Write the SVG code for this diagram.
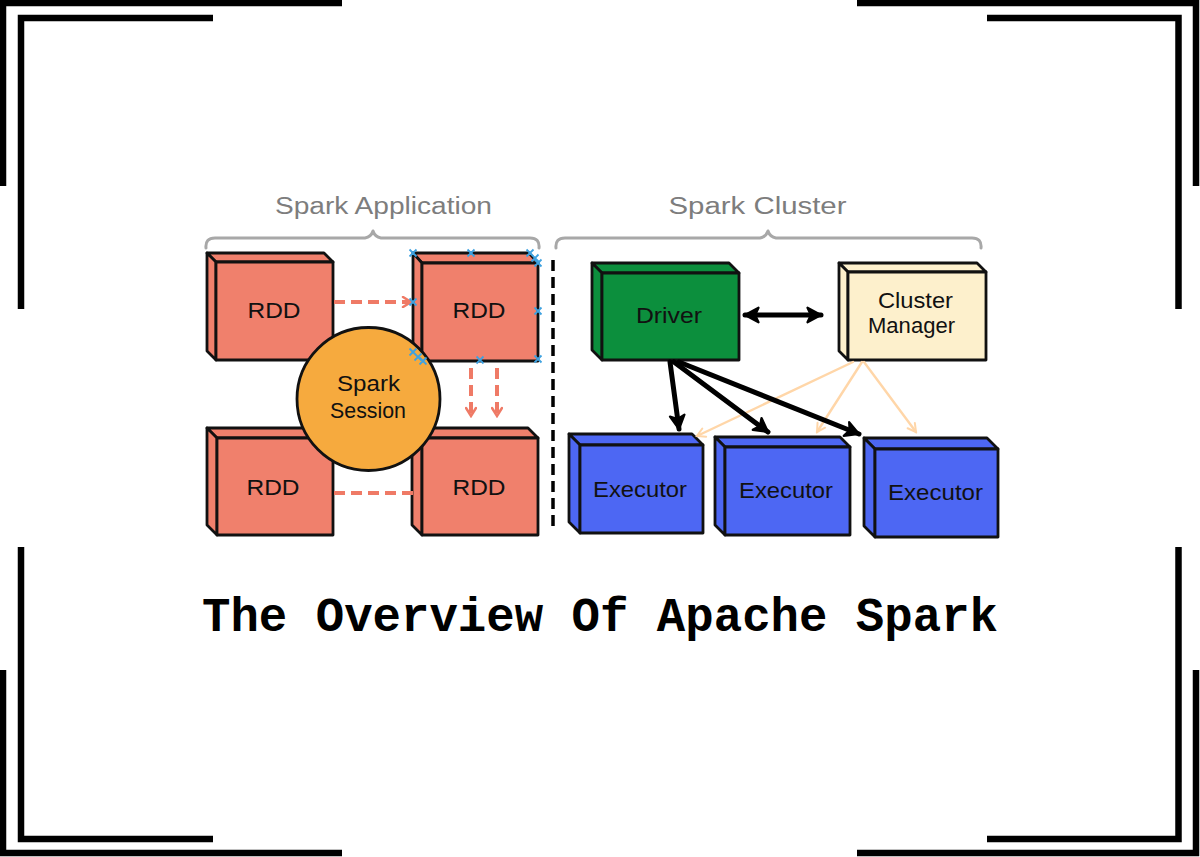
<svg xmlns="http://www.w3.org/2000/svg" width="1200" height="857" viewBox="0 0 1200 857">
<defs>
<style>
.frame{fill:none;stroke:#000;stroke-width:6.5;stroke-linecap:butt}
.face{stroke:#111;stroke-width:2.8;stroke-linejoin:round}
.rdd{fill:#f0806c}
.drv{fill:#0c8f3d}
.cm{fill:#fdf0cc}
.ex{fill:#4d67f3}
.lbl{font-family:"Liberation Sans","Open Sans",sans-serif;font-size:21.5px;fill:#111;text-anchor:middle}
.grp{font-family:"Liberation Sans","Open Sans",sans-serif;font-size:23px;fill:#7d7d7d;text-anchor:middle}
.brace{fill:none;stroke:#a8a8a8;stroke-width:3;stroke-linecap:round;stroke-linejoin:round}
.dash{fill:none;stroke:#ef7a66;stroke-width:4;stroke-dasharray:11 6}
.blk{fill:none;stroke:#000;stroke-width:5;stroke-linecap:round}
.org{fill:none;stroke:#ffd6a8;stroke-width:2.4;stroke-linecap:round}
.sep{fill:none;stroke:#000;stroke-width:3.5;stroke-dasharray:11 6}
.x{stroke:#3fa2e0;stroke-width:1.8}
.title{font-family:"Liberation Mono","Courier New",monospace;font-weight:bold;font-size:47.5px;fill:#000;text-anchor:middle}
</style>
<marker id="hs" viewBox="0 0 12 12" refX="10" refY="6" markerWidth="12" markerHeight="12" markerUnits="userSpaceOnUse" orient="auto">
<path d="M2,1 L10,6 L2,11" fill="none" stroke="#ef7a66" stroke-width="2.5" stroke-linecap="round"/>
</marker>
<marker id="hb" viewBox="0 0 16 16" refX="14" refY="8" markerWidth="18" markerHeight="18" markerUnits="userSpaceOnUse" orient="auto">
<path d="M2,1.5 L14,8 L2,14.5 L5,8 Z" fill="#000" stroke="#000" stroke-width="2" stroke-linejoin="round"/>
</marker>
<marker id="hbs" viewBox="0 0 16 16" refX="14" refY="8" markerWidth="18" markerHeight="18" markerUnits="userSpaceOnUse" orient="auto-start-reverse">
<path d="M2,1.5 L14,8 L2,14.5 L5,8 Z" fill="#000" stroke="#000" stroke-width="2" stroke-linejoin="round"/>
</marker>
<marker id="ho" viewBox="0 0 12 12" refX="10" refY="6" markerWidth="12" markerHeight="12" markerUnits="userSpaceOnUse" orient="auto">
<path d="M2,1.5 L10,6 L2,10.5" fill="none" stroke="#ffd6a8" stroke-width="2" stroke-linecap="round"/>
</marker>
</defs>
<rect width="1200" height="857" fill="#fff"/>

<g id="frame">
<path class="frame" d="M3,186 V3 H342"/>
<path class="frame" d="M21,309 V18 H213"/>
<path class="frame" d="M857,3 H1196 V186"/>
<path class="frame" d="M987,18 H1178.5 V309"/>
<path class="frame" d="M21,547 V839 H213"/>
<path class="frame" d="M3,670 V853 H342"/>
<path class="frame" d="M987,839 H1178.5 V547"/>
<path class="frame" d="M857,853 H1196 V670"/>
</g>

<g id="group-labels">
<text class="grp" x="383.5" y="214" textLength="217" lengthAdjust="spacingAndGlyphs">Spark Application</text>
<path class="brace" d="M206,248 Q205,238 215,238 L365,238 Q371,237 373,231 Q375,237 381,238 L530,238 Q540,238 539,248"/>
<text class="grp" x="757.5" y="214" textLength="178" lengthAdjust="spacingAndGlyphs">Spark Cluster</text>
<path class="brace" d="M556,248 Q555,238 565,238 L760,238 Q766,237 768,231 Q770,237 776,238 L972,238 Q982,238 981,248"/>
</g>

<g id="separator">
<path class="sep" d="M553,260 V532"/>
</g>

<g id="rdd-tl">
<polygon class="face rdd" points="207,253 324,253 333,262 216,262"/>
<polygon class="face rdd" points="207,253 216,262 216,360 207,351"/>
<rect class="face rdd" x="216" y="262" width="117" height="98"/>
<text class="lbl" x="274" y="318" textLength="53" lengthAdjust="spacingAndGlyphs">RDD</text>
</g>
<g id="rdd-tr">
<polygon class="face rdd" points="413,253 529,253 538,263 422,263"/>
<polygon class="face rdd" points="413,253 422,263 422,361 413,352"/>
<rect class="face rdd" x="422" y="263" width="116" height="98"/>
<text class="lbl" x="479" y="318" textLength="53" lengthAdjust="spacingAndGlyphs">RDD</text>
</g>
<g id="rdd-bl">
<polygon class="face rdd" points="207,428 323,428 333,438 217,438"/>
<polygon class="face rdd" points="207,428 217,438 217,535 207,525"/>
<rect class="face rdd" x="217" y="438" width="116" height="97"/>
<text class="lbl" x="273" y="495" textLength="53" lengthAdjust="spacingAndGlyphs">RDD</text>
</g>
<g id="rdd-br">
<polygon class="face rdd" points="412,428 528,428 538,438 422,438"/>
<polygon class="face rdd" points="412,428 422,438 422,535 412,525"/>
<rect class="face rdd" x="422" y="438" width="116" height="97"/>
<text class="lbl" x="479" y="495" textLength="53" lengthAdjust="spacingAndGlyphs">RDD</text>
</g>

<g id="spark-session">
<circle cx="368.5" cy="399" r="71.5" fill="#f6aa3e" stroke="#111" stroke-width="2.8"/>
<text class="lbl" x="368.5" y="391" textLength="63" lengthAdjust="spacingAndGlyphs">Spark</text>
<text class="lbl" x="368" y="418" textLength="76" lengthAdjust="spacingAndGlyphs">Session</text>
</g>

<g id="driver">
<polygon class="face drv" points="592,263 729,263 739,273 602,273"/>
<polygon class="face drv" points="592,263 602,273 602,360 592,350"/>
<rect class="face drv" x="602" y="273" width="137" height="87"/>
<text class="lbl" x="669" y="323" textLength="66" lengthAdjust="spacingAndGlyphs">Driver</text>
</g>
<g id="cluster-manager">
<polygon class="face cm" points="839,263 977,263 986,272 848,272"/>
<polygon class="face cm" points="839,263 848,272 848,360 839,351"/>
<rect class="face cm" x="848" y="272" width="138" height="88"/>
<text class="lbl" x="915.5" y="308" textLength="75" lengthAdjust="spacingAndGlyphs">Cluster</text>
<text class="lbl" x="911.5" y="333" textLength="87" lengthAdjust="spacingAndGlyphs">Manager</text>
</g>
<g id="executor-1">
<polygon class="face ex" points="569,434 692,434 703,445 580,445"/>
<polygon class="face ex" points="569,434 580,445 580,533 569,522"/>
<rect class="face ex" x="580" y="445" width="123" height="88"/>
<text class="lbl" x="640" y="497" textLength="94" lengthAdjust="spacingAndGlyphs">Executor</text>
</g>
<g id="executor-2">
<polygon class="face ex" points="715,437 840,437 850,447 725,447"/>
<polygon class="face ex" points="715,437 725,447 725,535 715,525"/>
<rect class="face ex" x="725" y="447" width="125" height="88"/>
<text class="lbl" x="786" y="498" textLength="94" lengthAdjust="spacingAndGlyphs">Executor</text>
</g>
<g id="executor-3">
<polygon class="face ex" points="864,438 987,438 998,449 875,449"/>
<polygon class="face ex" points="864,438 875,449 875,537 864,526"/>
<rect class="face ex" x="875" y="449" width="123" height="88"/>
<text class="lbl" x="935.5" y="500" textLength="95" lengthAdjust="spacingAndGlyphs">Executor</text>
</g>

<g id="connectors">
<path class="dash" d="M334,302 H411" marker-end="url(#hs)"/>
<path class="dash" d="M471,368 V416" marker-end="url(#hs)"/>
<path class="dash" d="M497,368 V416" marker-end="url(#hs)"/>
<path class="dash" d="M334,493 H420"/>
<path class="org" d="M853,362 L697,436" marker-end="url(#ho)"/>
<path class="org" d="M862,362 L817,432" marker-end="url(#ho)"/>
<path class="org" d="M864,362 L916,432" marker-end="url(#ho)"/>
<path class="blk" d="M670,362 L679,429" marker-end="url(#hb)"/>
<path class="blk" d="M674,362 L768,432" marker-end="url(#hb)"/>
<path class="blk" d="M679,362 L859,434" marker-end="url(#hb)"/>
<path class="blk" d="M745,315 H821" marker-start="url(#hbs)" marker-end="url(#hbs)"/>
</g>

<g id="selection-marks">
<path class="x" d="M409.5,249.5l7,7m0,-7l-7,7 M467.5,249.5l7,7m0,-7l-7,7 M526.5,249.5l7,7m0,-7l-7,7 M531.5,254.5l7,7m0,-7l-7,7 M534.5,259.5l7,7m0,-7l-7,7 M409.5,298.5l7,7m0,-7l-7,7 M534.5,307.5l7,7m0,-7l-7,7 M476.5,356.5l7,7m0,-7l-7,7 M534.5,355.5l7,7m0,-7l-7,7 M409.5,348.5l7,7m0,-7l-7,7 M414.5,353.5l7,7m0,-7l-7,7 M419.5,357.5l7,7m0,-7l-7,7"/>
</g>

<text class="title" x="600" y="631" textLength="796" lengthAdjust="spacingAndGlyphs">The Overview Of Apache Spark</text>
</svg>
